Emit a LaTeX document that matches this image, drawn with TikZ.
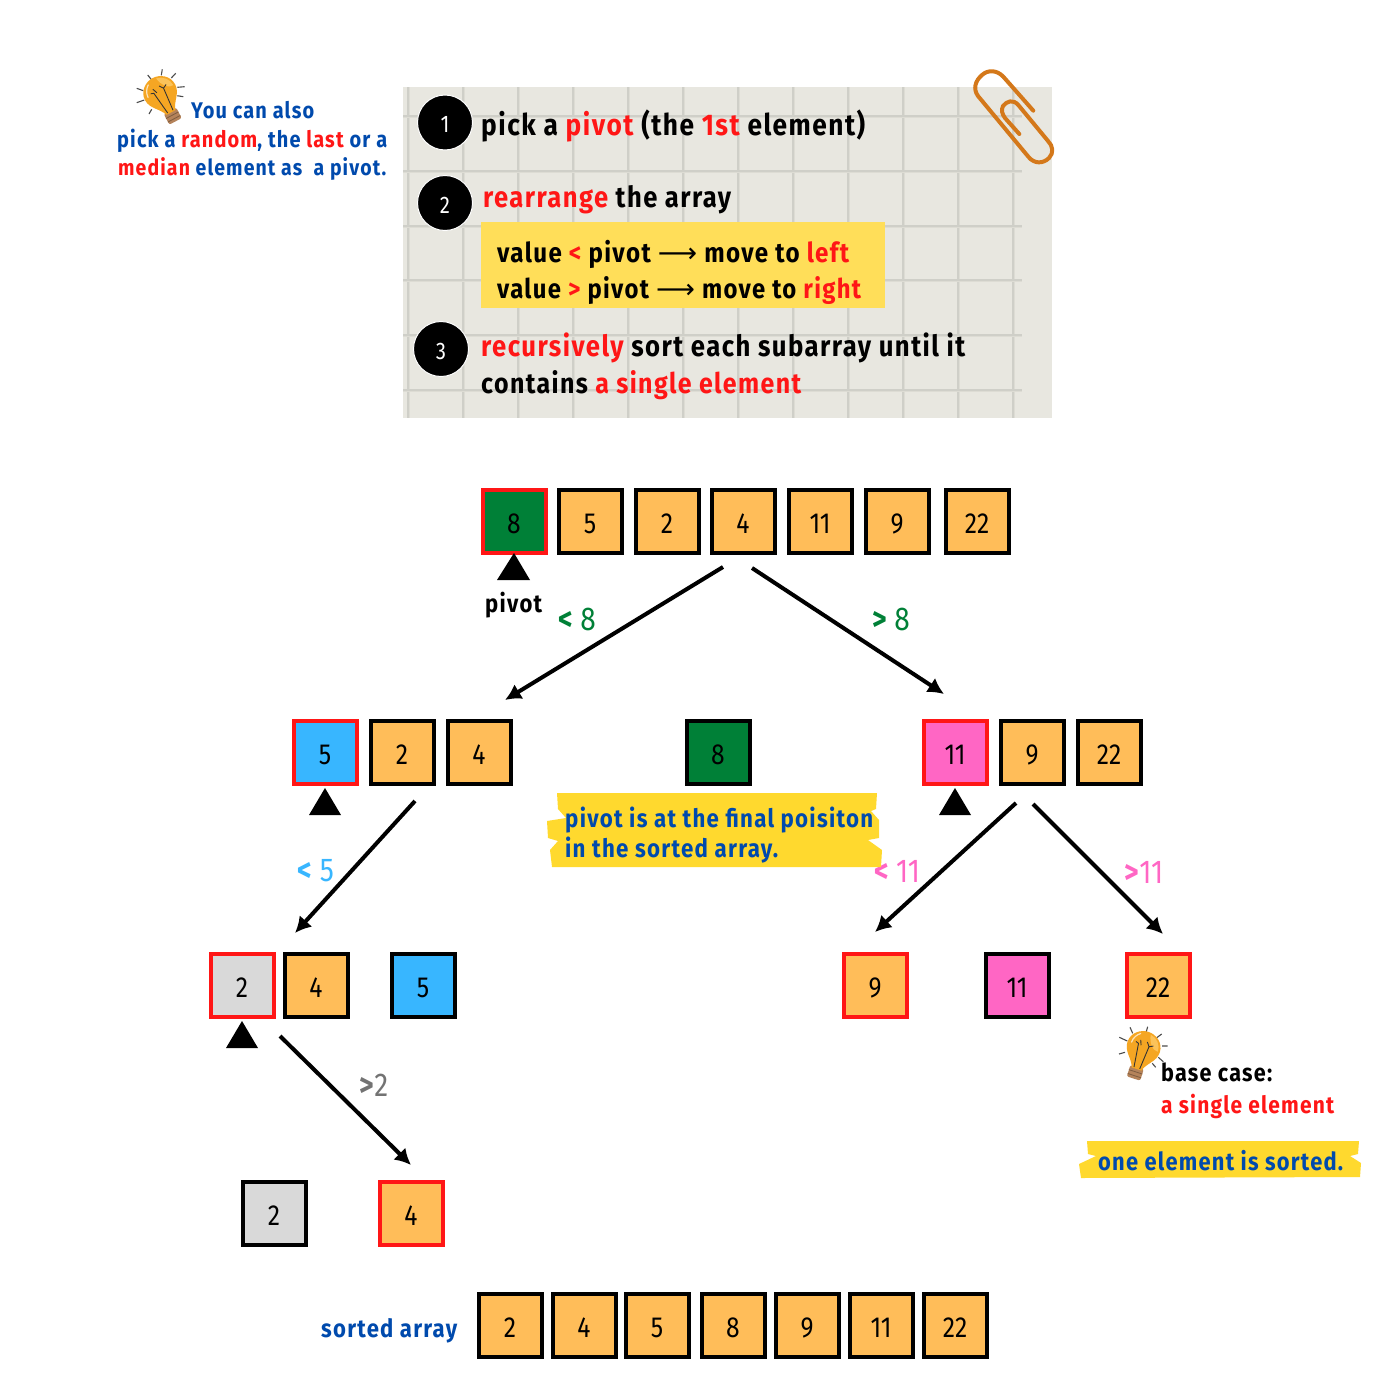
\documentclass[tikz,border=0pt]{standalone}
\usepackage{fontspec}
\usepackage{graphicx}
\setmainfont[FakeStretch=0.88,LetterSpace=5]{Fira Sans}
\newfontfamily\cellfont[FakeStretch=0.85]{Fira Sans}
\newfontfamily\symfont{DejaVu Sans}
\usetikzlibrary{arrows.meta}
\definecolor{cellorange}{HTML}{FFBD59}
\definecolor{pgreen}{HTML}{008037}
\definecolor{pblue}{HTML}{38B6FF}
\definecolor{ppink}{HTML}{FF66C4}
\definecolor{pgrey}{HTML}{D9D9D9}
\definecolor{pred}{HTML}{FF1616}
\definecolor{tblue}{HTML}{004AAD}
\definecolor{tgrey}{HTML}{737373}
\definecolor{noteyellow}{HTML}{FFDE59}
\definecolor{brushyellow}{HTML}{FFD92E}
\definecolor{paper}{HTML}{E8E7E0}
\definecolor{gridsoft}{HTML}{DDDCD4}
\definecolor{gridline}{HTML}{CFCFC8}
\definecolor{clipcol}{HTML}{D4781A}
\definecolor{bulbbody}{HTML}{F5A623}
\definecolor{bulblight}{HTML}{FBC35A}
\definecolor{bulbbase}{HTML}{B5835A}
\newcommand\T[2]{\resizebox{#1pt}{!}{#2}}
\newcommand\R[1]{\textcolor{pred}{#1}}
\newcommand\Sg[1]{{\bfseries #1}}
\tikzset{
  cell/.style={draw=black,line width=4pt,minimum size=63pt,inner sep=0pt,fill=cellorange,text height=24pt,text depth=0pt,font=\cellfont\fontsize{29}{29}\selectfont},
  pivotcell/.style={cell,draw=pred},
  txt/.style={anchor=base west,inner sep=0pt,font=\bfseries\fontsize{24}{24}\selectfont},
  lab/.style={anchor=center,inner sep=0pt,font=\cellfont\fontsize{33}{33}\selectfont},
  num/.style={circle,fill=black,draw=white,line width=1pt,minimum size=55pt,inner sep=0pt,text=white,text height=20pt,text depth=0pt,font=\cellfont\fontsize{24}{24}\selectfont},
  tri/.style={fill=black},
  flow/.style={line width=4pt,-{Latex[length=16pt,width=17pt]}},
  ray/.style={draw=black!70,line width=1.1pt},
  gridsoftline/.style={draw=gridsoft,line width=3pt},
  gridcore/.style={draw=gridline,line width=1.2pt},
  bulb/.pic={
    \fill[bulbbase,rounded corners=2pt] (-7,19) rectangle (7,31);
    \fill[bulbbody] (-5,21) .. controls (-8,12) and (-17,8) .. (-17,-2) .. controls (-17,-12) and (-8,-18) .. (0,-18) .. controls (8,-18) and (17,-12) .. (17,-2) .. controls (17,8) and (8,12) .. (5,21) -- cycle;
    \fill[bulblight] (3,-16) .. controls (10,-15) and (15,-9) .. (15,-2) .. controls (10,-1) and (4,-8) .. (3,-16) -- cycle;
    \draw[white!70!bulbbody,line width=1.2pt,line cap=round] (-13,-3) .. controls (-13,-8) and (-10,-12) .. (-7,-14);
    \draw[black!80,line width=.9pt] (-3,20) -- (-6,-4) (3,20) -- (5,-4) (-9,-5) -- (-6,-4) (-5,-8) -- (-3,-3) (2,-8) -- (5,-4) -- (9,-6);
    \draw[bulbbase!70!black,line width=.8pt] (-7,24) -- (7,24) (-7,28) -- (7,28);
  }
}
\begin{document}
\begin{tikzpicture}[x=1pt,y=-1pt]
\useasboundingbox (0,0) rectangle (1400,1400);
\fill[white] (0,0) rectangle (1400,1400);
% paper
\fill[paper] (403,87) rectangle (1052,418);
\foreach \g in {408,463,518,573,628,683,738,793,848,903,958,1013}{
  \draw[gridsoftline] (\g,87) -- (\g,418);
  \draw[gridcore] (\g,87) -- (\g,418);}
\foreach \g in {116,171,226,280,335,390}{
  \draw[gridsoftline] (403,\g) -- (1022,\g);
  \draw[gridcore] (403,\g) -- (1022,\g);}
% yellow note
\fill[noteyellow] (481,222) rectangle (885,308);
% paper clip
\draw[clipcol,line width=4pt,line cap=round,line join=round]
  (1033.3,110.7) -- (1003.3,76.7) .. controls (997,70) and (988,69.5) .. (982,75)
  .. controls (975,81) and (973,89) .. (978,96) -- (1028.3,156.7)
  .. controls (1034,164) and (1043,164) .. (1049,158) .. controls (1054,153) and (1053,146) .. (1048,141)
  -- (1018.3,105) .. controls (1013,99) and (1007,101) .. (1003,106)
  .. controls (1001,110) and (1002,114) .. (1005,118) -- (1019.3,134);
% numbered circles
\node[num] (n1) at (445,122.5) {1};
\node[num] (n2) at (445,203) {2};
\node[num] (n3) at (441,349) {3};
% panel text
\node[txt] (s1) at (481,135) {\T{384}{pick a \R{pivot} (the \R{1st} element)}};
\node[txt] (s2) at (483,207) {\T{248}{\R{rearrange} the array}};
\node[txt] (s3) at (497,262) {\T{352}{value \R{<} pivot {\symfont\mdseries ⟶} move to \R{left}}};
\node[txt] (s4) at (497,298) {\T{364}{value \R{>} pivot {\symfont\mdseries ⟶} move to \R{right}}};
\node[txt] (s5) at (481,356) {\T{484}{\R{recursively} sort each subarray until it}};
\node[txt] (s6) at (481,393) {\T{320}{contains \R{a single element}}};
% left note
\draw[ray] (162.3,69.3)--(161.3,75.3) (175.7,73.3)--(171.3,78) (147.7,75)--(151.7,80) (136.7,88.3)--(143.3,90.7)
  (136.7,102.7)--(144.3,100) (149,114)--(151.7,109.3) (177.3,87.3)--(184.7,86.7) (177.3,95.7)--(183.3,96.7);
\pic[rotate=28,transform shape] at (161,94) {bulb};
\node[txt,text=tblue] (h1) at (191,118) {\T{123}{You can also}};
\node[txt,text=tblue] (h2) at (117,147) {\T{270}{pick a \R{random}, the \R{last} or a}};
\node[txt,text=tblue] (h3) at (118,175) {\T{268}{\R{median} element as\ \ a pivot.}};
% row 1
\node[pivotcell,fill=pgreen] (a1) at (514,521) {8};
\node[cell] (a2) at (590,521) {5};
\node[cell] (a3) at (667,521) {2};
\node[cell] (a4) at (743,521) {4};
\node[cell] (a5) at (820,521) {11};
\node[cell] (a6) at (897,521) {9};
\node[cell] (a7) at (977,521) {22};
\fill[tri] (514,553) -- (497,580) -- (530,580) -- cycle;
\node[txt] (pv) at (485,612) {\T{57}{pivot}};
% row 2
\node[pivotcell,fill=pblue] (b1) at (325,752) {5};
\node[cell] (b2) at (402,752) {2};
\node[cell] (b3) at (479,752) {4};
\node[cell,fill=pgreen] (b4) at (718,752) {8};
\node[pivotcell,fill=ppink] (b5) at (955,752) {11};
\node[cell] (b6) at (1032,752) {9};
\node[cell] (b7) at (1109,752) {22};
\fill[tri] (325,788) -- (309,815) -- (341,815) -- cycle;
\fill[tri] (955,788) -- (939,815) -- (971,815) -- cycle;
% row 3
\node[pivotcell,fill=pgrey] (c1) at (242,985) {2};
\node[cell] (c2) at (316,985) {4};
\node[cell,fill=pblue] (c3) at (423,985) {5};
\node[pivotcell] (c4) at (875,985) {9};
\node[cell,fill=ppink] (c5) at (1017,985) {11};
\node[pivotcell] (c6) at (1158,985) {22};
\fill[tri] (242,1021) -- (226,1048) -- (258,1048) -- cycle;
% row 4
\node[cell,fill=pgrey] (d1) at (274,1213) {2};
\node[pivotcell] (d2) at (411,1213) {4};
% sorted
\node[txt,text=tblue] (sa) at (321,1337) {\T{136}{sorted array}};
\node[cell] (e1) at (510,1325) {2};
\node[cell] (e2) at (584,1325) {4};
\node[cell] (e3) at (657,1325) {5};
\node[cell] (e4) at (733,1325) {8};
\node[cell] (e5) at (807,1325) {9};
\node[cell] (e6) at (881,1325) {11};
\node[cell] (e7) at (955,1325) {22};
% connector ends
\coordinate (p1) at (723,567); \coordinate (q1) at (505,700);
\coordinate (p2) at (752,568); \coordinate (q2) at (944,694);
\coordinate (p3) at (415,801); \coordinate (q3) at (295,933);
\coordinate (p4) at (1016,803); \coordinate (q4) at (875,932);
\coordinate (p5) at (1033,804); \coordinate (q5) at (1163,934);
\coordinate (p6) at (280,1036); \coordinate (q6) at (411,1165);
\draw[flow] (p1) -- (q1);
\draw[flow] (p2) -- (q2);
\draw[flow] (p3) -- (q3);
\draw[flow] (p4) -- (q4);
\draw[flow] (p5) -- (q5);
\draw[flow] (p6) -- (q6);
% edge labels
\node[lab,text=pgreen] (l1) at (577,619) {\Sg{<} 8};
\node[lab,text=pgreen] (l2) at (891,619) {\Sg{>} 8};
\node[lab,text=pblue] (l3) at (316,871) {\Sg{<} 5};
\node[lab,text=ppink] (l4) at (897,871) {\Sg{<} 11};
\node[lab,text=ppink] (l5) at (1144,872) {\Sg{>}11};
\node[lab,text=tgrey] (l6) at (374,1085) {\Sg{>}2};
% highlight 1
\fill[brushyellow] (557,793) -- (877,793) -- (876,809) -- (871,811) -- (879,820) -- (879,838) -- (868,840) -- (882,850) -- (881,867) -- (552,867) -- (550,850) -- (558,841) -- (548,838) -- (547,821) -- (566,818) -- (558,809) -- cycle;
\node[txt,text=tblue] (f1) at (565,827) {\T{308}{pivot is at the final poisiton}};
\node[txt,text=tblue] (f2) at (565,857) {\T{213}{in the sorted array.}};
% base case note
\draw[ray] (1132.7,1033.3)--(1130,1027.3) (1146,1032.7)--(1147.7,1026.7) (1156.7,1037.7)--(1161.7,1034) (1162,1046)--(1167.7,1046)
  (1158.3,1057.3)--(1163.3,1061.7) (1152.3,1063.3)--(1155.7,1067.3) (1119.3,1037.3)--(1127.3,1041) (1119,1054)--(1125,1052.3);
\pic[rotate=-18,transform shape] at (1143,1049) {bulb};
\node[txt] (g1) at (1161,1081) {\T{111}{base case:}};
\node[txt,text=pred] (g2) at (1161,1113) {\T{173}{a single element}};
\fill[brushyellow] (1087,1141) -- (1359,1141) -- (1358,1154) -- (1350,1156) -- (1361,1163) -- (1360,1177) -- (1081,1178) -- (1079,1164) -- (1096,1156) -- (1088,1154) -- cycle;
\node[txt,text=tblue] (g3) at (1098,1170) {\T{245}{one element is sorted.}};
\end{tikzpicture}
\end{document}
